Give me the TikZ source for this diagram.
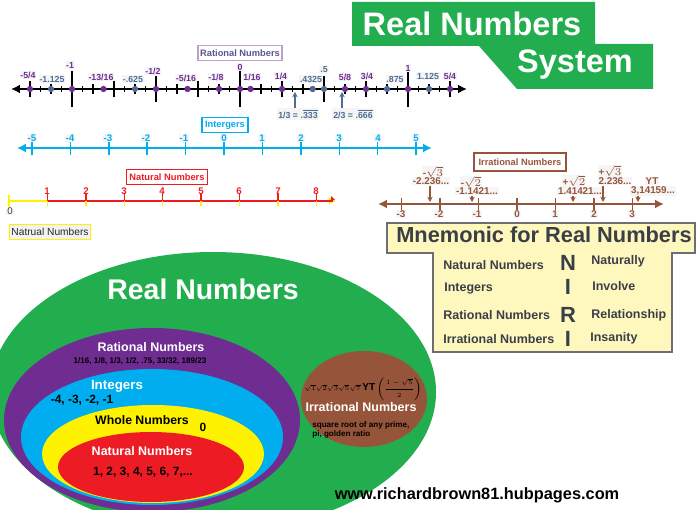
\documentclass[tikz,border=0pt]{standalone}
\usepackage{fontspec}
\setmainfont{Liberation Sans}
\usetikzlibrary{arrows.meta}

\definecolor{realgreen}{HTML}{22AE4E}
\definecolor{ratpurple}{HTML}{6F2C91}
\definecolor{intblue}{HTML}{00AEEF}
\definecolor{wholeyellow}{HTML}{FFF200}
\definecolor{natred}{HTML}{ED1C24}
\definecolor{irrbrown}{HTML}{96553A}
\definecolor{slateblue}{HTML}{4F6D92}
\definecolor{memofill}{HTML}{FFF8BE}
\definecolor{memoline}{HTML}{6D6E71}
\definecolor{memotext}{HTML}{3A3F47}

\begin{document}
\begin{tikzpicture}[x=0.02cm,y=-0.02cm]

\tikzstyle{head}=[text=white,font=\bfseries\fontsize{18.5}{20}\selectfont]
\tikzstyle{bubble}=[text=white,font=\bfseries\fontsize{7.1}{8}\selectfont]
\tikzstyle{blackbold}=[text=black,font=\bfseries\fontsize{6.8}{8}\selectfont]
\tikzstyle{small}=[text=black,font=\bfseries\fontsize{4.6}{5.2}\selectfont]
\tikzstyle{ratnum}=[text=ratpurple,font=\bfseries\fontsize{5}{6}\selectfont,inner sep=0.5pt,fill=black!4]
\tikzstyle{decnum}=[ratnum,text=slateblue]
\tikzstyle{intnum}=[ratnum,text=intblue,font=\bfseries\fontsize{5.5}{6}\selectfont]
\tikzstyle{natnum}=[ratnum,text=natred,fill=none,font=\bfseries\fontsize{5.5}{6}\selectfont]
\tikzstyle{irrnum}=[ratnum,text=irrbrown,font=\bfseries\fontsize{5.6}{6}\selectfont]
\tikzstyle{tag}=[draw,line width=1pt,fill=white,minimum height=8.6pt,inner sep=1pt,font=\bfseries\fontsize{5.3}{6}\selectfont]
\tikzstyle{memorow}=[anchor=west,inner sep=0,text=memotext,font=\bfseries\fontsize{7.1}{8}\selectfont]
\tikzstyle{memoletter}=[text=memotext,inner sep=0,font=\bfseries\fontsize{12.5}{14}\selectfont]
\tikzstyle{ratline}=[line width=1.2pt,black,{Latex[length=5pt,width=5pt]}-{Latex[length=5pt,width=5pt]}]
\tikzstyle{rattick}=[line width=0.8pt,black]
\tikzstyle{ratdot}=[circle,fill=ratpurple,inner sep=0,minimum size=3.6pt]
\tikzstyle{decdot}=[ratdot,fill=slateblue]
\tikzstyle{note}=[-{Stealth[length=3pt,width=3pt]},line width=0.7pt,slateblue]
\tikzstyle{irrnote}=[-{Stealth[length=3pt,width=3pt]},line width=0.8pt,irrbrown]

\useasboundingbox (0,0) rectangle (700,510);
\clip (0,0) rectangle (700,510);

% title
\fill[realgreen] (352,2) -- (595,2) -- (595,44) -- (653,44) -- (653,89) -- (517,89) -- (479,46) -- (352,46) -- cycle;
\node[head] (title1) at (472,24) {Real Numbers};
\node[head] (title2) at (575,65) {System};

% rational line
\coordinate (ratL) at (11,89);
\coordinate (ratR) at (467,89);
\foreach \k in {-21,-19,...,21} \draw[rattick] ({240+10.5*\k},86) -- ({240+10.5*\k},92);
\foreach \k in {-18,-14,...,18} \draw[rattick] ({240+10.5*\k},84) -- ({240+10.5*\k},94);
\foreach \k in {-20,-12,-4,4,12,20} \draw[rattick] ({240+10.5*\k},81) -- ({240+10.5*\k},97);
\foreach \k in {-8,8} \draw[rattick] ({240+10.5*\k},76) -- ({240+10.5*\k},102);
\foreach \k in {-16,0,16} \draw[rattick] ({240+10.5*\k},71) -- ({240+10.5*\k},107);
\draw[ratline] (ratL) -- (ratR);
\foreach \v [count=\n] in {-1.25,-1,-0.8125,-0.5,-0.3125,-0.125,0,0.0625,0.25,0.625,0.75,1,1.25}
  \node[ratdot] (pd\n) at ({240+168*\v},89) {};
\foreach \v [count=\n] in {-1.125,-0.625,0.4325,0.5,0.875,1.125}
  \node[decdot] (bd\n) at ({240+168*\v},89) {};

\node[tag,draw=ratpurple!45,text=slateblue!60!ratpurple,minimum width=48pt] (ratTag) at (240,53) {Rational Numbers};

\node[ratnum] (r1)  at (28,75)  {-5/4};
\node[decnum] (r2)  at (52,79)  {-1.125};
\node[ratnum] (r3)  at (70,65)  {-1};
\node[ratnum] (r4)  at (101,77) {-13/16};
\node[decnum] (r5)  at (133,79) {-.625};
\node[ratnum] (r6)  at (153,71) {-1/2};
\node[ratnum] (r7)  at (186,78) {-5/16};
\node[ratnum] (r8)  at (216,77) {-1/8};
\node[ratnum] (r9)  at (240,67) {0};
\node[ratnum] (r10) at (252,77) {1/16};
\node[ratnum] (r11) at (281,76) {1/4};
\node[decnum] (r12) at (311,79) {.4325};
\node[decnum] (r13) at (324,70) {.5};
\node[ratnum] (r14) at (345,77) {5/8};
\node[ratnum] (r15) at (367,76) {3/4};
\node[decnum] (r16) at (395,79) {.875};
\node[ratnum] (r17) at (408,68) {1};
\node[decnum] (r18) at (428,76) {1.125};
\node[ratnum] (r19) at (450,76) {5/4};

\node[decnum] (third)  at (298,114) {1/3 = .$\overline{\mbox{333}}$};
\node[decnum] (twothd) at (353,114) {2/3 = .$\overline{\mbox{666}}$};
\coordinate (thirdpt)  at (295,92);
\coordinate (twothdpt) at (342,92);
\draw[note] (third.north -| thirdpt) -- (thirdpt);
\draw[note] (twothd.north -| twothdpt) -- (twothdpt);

% integer line
\coordinate (intL) at (17,148);
\coordinate (intR) at (432,148);
\draw[line width=1.1pt,intblue,{Latex[length=5pt,width=5pt]}-{Latex[length=5pt,width=5pt]}] (intL) -- (intR);
\foreach \k in {-5,...,5} \draw[line width=0.8pt,intblue] ({224+38.4*\k},141) -- ({224+38.4*\k},155);
\node[tag,draw=intblue,text=intblue,minimum width=26.5pt] (intTag) at (225,125) {Intergers};
\node[intnum] (i1)  at (32,138)  {-5};
\node[intnum] (i2)  at (70,138)  {-4};
\node[intnum] (i3)  at (108,138) {-3};
\node[intnum] (i4)  at (146,138) {-2};
\node[intnum] (i5)  at (184,138) {-1};
\node[intnum] (i6)  at (224,138) {0};
\node[intnum] (i7)  at (262,138) {1};
\node[intnum] (i8)  at (301,138) {2};
\node[intnum] (i9)  at (339,138) {3};
\node[intnum] (i10) at (378,138) {4};
\node[intnum] (i11) at (416,138) {5};

% natural line
\coordinate (natL) at (9,201);
\coordinate (natM) at (47,201);
\coordinate (natR) at (336,201);
\coordinate (natE) at (333,201);
\draw[line width=1pt,wholeyellow,-{Latex[length=4pt,width=4pt]}] (natL) -- (natR);
\draw[line width=0.9pt,natred] (natM) -- (natE);
\draw[line width=0.9pt,wholeyellow] (9,195) -- (9,207);
\foreach \k in {0,...,7} {
  \draw[line width=0.8pt,natred] ({47.5+38.4*\k},193) -- ({47.5+38.4*\k},201);
  \draw[line width=0.8pt,wholeyellow] ({47.5+38.4*\k},201) -- ({47.5+38.4*\k},206);
}
\fill[natred] (331,196) -- (335,200) -- (331,200) -- cycle;
\node[tag,draw=natred,text=natred,minimum width=46pt] (natTag) at (167,177) {Natural Numbers};
\node[natnum] (n1) at (47,191)  {1};
\node[natnum] (n2) at (86,191)  {2};
\node[natnum] (n3) at (124,191) {3};
\node[natnum] (n4) at (162,191) {4};
\node[natnum] (n5) at (201,191) {5};
\node[natnum] (n6) at (239,191) {6};
\node[natnum] (n7) at (278,191) {7};
\node[natnum] (n8) at (316,191) {8};
\node[ratnum,text=black!75,font=\fontsize{5.5}{6}\selectfont] (zero) at (10,211) {0};
\node[tag,draw=wholeyellow,fill=black!5,text=black!85,font=\fontsize{5.8}{6}\selectfont,minimum width=46pt] (natrual) at (50,232) {Natrual Numbers};

% irrational line
\coordinate (irrL) at (378,204);
\coordinate (irrR) at (664,204);
\draw[line width=1.1pt,irrbrown,{Latex[length=5pt,width=5pt]}-{Latex[length=5pt,width=5pt]}] (irrL) -- (irrR);
\foreach \k in {-3,...,3} \draw[line width=0.8pt,irrbrown] ({517+38.5*\k},198) -- ({517+38.5*\k},211);
\node[tag,draw=irrbrown,text=irrbrown,minimum width=52pt,minimum height=10pt] (irrTag) at (520,162) {Irrational Numbers};
\node[irrnum] (m1) at (401,214) {-3};
\node[irrnum] (m2) at (439,214) {-2};
\node[irrnum] (m3) at (477,214) {-1};
\node[irrnum] (m4) at (517,214) {0};
\node[irrnum] (m5) at (555,214) {1};
\node[irrnum] (m6) at (594,214) {2};
\node[irrnum] (m7) at (632,214) {3};

\node[irrnum] (s3a) at (433,172) {-$\sqrt{3}$};
\node[irrnum] (v3a) at (431,181) {-2.236...};
\node[irrnum] (s2a) at (471,182) {-$\sqrt{2}$};
\node[irrnum] (v2a) at (477,191) {-1.1421...};
\node[irrnum] (s2b) at (574,181) {+$\sqrt{2}$};
\node[irrnum] (v2b) at (580,191) {1.41421...};
\node[irrnum] (s3b) at (610,171) {+$\sqrt{3}$};
\node[irrnum] (v3b) at (615,181) {2.236...};
\node[irrnum] (pi)  at (652,181) {YT};
\node[irrnum] (v4)  at (653,191) {3,14159...};
\coordinate (pt3a) at (430,202);
\coordinate (pt2a) at (472,202);
\coordinate (pt2b) at (573,202);
\coordinate (pt3b) at (603,202);
\coordinate (pt4)  at (638,202);
\draw[irrnote] (v3a.south -| pt3a) -- (pt3a);
\draw[irrnote] (v2a.south -| pt2a) -- (pt2a);
\draw[irrnote] (v2b.south -| pt2b) -- (pt2b);
\draw[irrnote] (v3b.south -| pt3b) -- (pt3b);
\draw[irrnote] (v4.south -| pt4) -- (pt4);

% mnemonic
\draw[memoline,fill=memofill,line width=1.1pt] (387,223) -- (695,223) -- (695,253) -- (672,253) -- (672,352) -- (433,352) -- (433,253) -- (387,253) -- cycle;
\node[memorow,anchor=center,font=\bfseries\fontsize{12.4}{14}\selectfont] (memoTitle) at (544,235) {Mnemonic for Real Numbers};
\node[memorow] (a1) at (443,265) {Natural Numbers};
\node[memorow] (a2) at (444,289) {Integers};
\node[memorow] (a3) at (443,315) {Rational Numbers};
\node[memorow] (a4) at (443,339) {Irrational Numbers};
\node[memoletter] (b1) at (568,263) {N};
\node[memoletter] (b2) at (568,287) {I};
\node[memoletter] (b3) at (568,315) {R};
\node[memoletter] (b4) at (568,339) {I};
\node[memorow] (c1) at (591,261) {Naturally};
\node[memorow] (c2) at (592,286) {Involve};
\node[memorow] (c3) at (591,315) {Relationship};
\node[memorow] (c4) at (590,338) {Insanity};

% sets
\fill[realgreen]   (213,392) ellipse [x radius=223,y radius=140];
\fill[ratpurple]   (152,420) ellipse [x radius=148,y radius=92];
\fill[intblue]     (152,437) ellipse [x radius=131,y radius=68];
\fill[wholeyellow] (153,454) ellipse [x radius=111,y radius=49];
\fill[natred]      (151,467) ellipse [x radius=93,y radius=35];
\fill[irrbrown]    (364,399) ellipse [x radius=63,y radius=48];

\node[head,font=\bfseries\fontsize{16.2}{18}\selectfont] (real) at (203,289) {Real Numbers};
\node[bubble] (rat)  at (151,347) {Rational Numbers};
\node[small]  (ratx) at (140,361) {1/16, 1/8, 1/3, 1/2, .75, 33/32, 189/23};
\node[bubble,font=\bfseries\fontsize{7.6}{9}\selectfont] (int) at (117,386) {Integers};
\node[blackbold] (intx) at (82,400) {-4, -3, -2, -1};
\node[blackbold,font=\bfseries\fontsize{7}{8}\selectfont] (whole) at (142,420) {Whole Numbers};
\node[blackbold] (wholex) at (203,427) {0};
\node[bubble] (nat)  at (142,451) {Natural Numbers};
\node[blackbold] (natx) at (143,472) {1, 2, 3, 4, 5, 6, 7,...};

\node[blackbold,inner sep=0,font=\bfseries\fontsize{5}{6}\selectfont] (irrf) at (363,389) {\scalebox{0.72}{$\sqrt{1}\sqrt{2}\sqrt{3}\sqrt{5}\sqrt{7}$ {\fontsize{8}{9}\selectfont YT} $\displaystyle\left(\frac{1-\sqrt{5}}{2}\right)$}};
\node[bubble] (irr) at (361,407) {Irrational Numbers};
\node[small,anchor=west,inner sep=0] (irra) at (312,425) {square root of any prime,};
\node[small,anchor=west,inner sep=0] (irrb) at (312,434) {pi, golden ratio};

\node[text=black,font=\bfseries\fontsize{9.3}{11}\selectfont] (url) at (477,495) {www.richardbrown81.hubpages.com};

\end{tikzpicture}
\end{document}
